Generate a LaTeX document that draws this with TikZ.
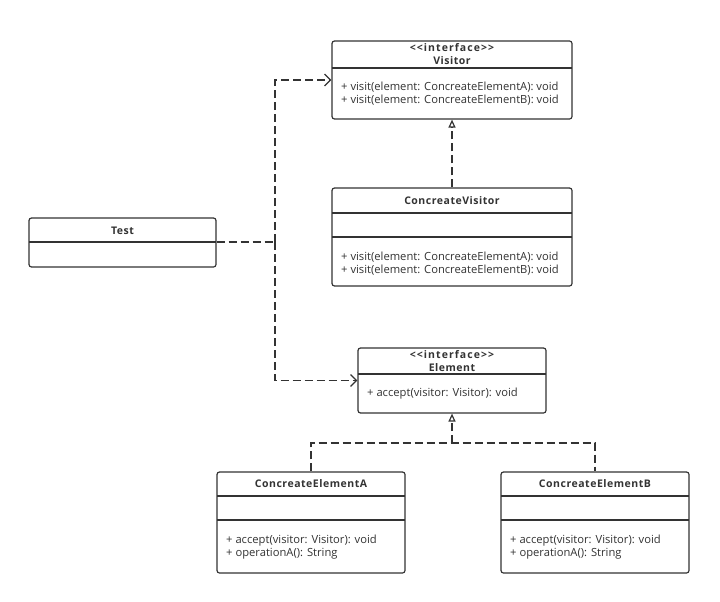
\documentclass[tikz,border=0pt]{standalone}
\usepackage{fontspec}
\setmainfont{Open Sans}
\usetikzlibrary{arrows.meta}
\definecolor{ink}{HTML}{333333}
\tikzset{
  classbox/.style={draw=ink, line width=1.2pt, rounded corners=2.5pt, inner sep=0pt, fill=white},
  divider/.style={draw=ink, line width=1.2pt},
  title/.style={font=\fontsize{10.5}{12}\selectfont\bfseries\addfontfeature{LetterSpace=5}, text=ink, inner sep=0pt},
  stereo/.style={font=\fontsize{10.5}{12}\selectfont\bfseries\addfontfeature{LetterSpace=10}, text=ink, inner sep=0pt},
  member/.style={font=\fontsize{11.2}{13}\selectfont, text=ink, inner sep=0pt, anchor=west},
  dep/.style={draw=ink, line width=1.2pt, dash pattern=on 8pt off 4pt},
  depend/.style={dep, -{Straight Barb[length=6pt,width=12pt,line width=1.2pt]}},
  realize/.style={dep, -{Triangle[open,length=8pt,width=7pt,line width=1.2pt]}},
}
\begin{document}
\begin{tikzpicture}[x=1pt,y=-1pt]
\useasboundingbox (0,0) rectangle (720,602);
% classes
\node[classbox, minimum width=240pt, minimum height=78pt] (visitor) at (452,80) {};
\node[classbox, minimum width=240pt, minimum height=98pt] (cvisitor) at (452,237) {};
\node[classbox, minimum width=187pt, minimum height=49pt] (test) at (122.5,242.5) {};
\node[classbox, minimum width=188pt, minimum height=65pt] (element) at (452,380.5) {};
\node[classbox, minimum width=188pt, minimum height=101pt] (cea) at (311,522.5) {};
\node[classbox, minimum width=188pt, minimum height=101pt] (ceb) at (595,522.5) {};
% dividers
\draw[divider] (332,68) -- (572,68);
\draw[divider] (332,213) -- (572,213);
\draw[divider] (332,237) -- (572,237);
\draw[divider] (29,242) -- (216,242);
\draw[divider] (358,374) -- (546,374);
\draw[divider] (217,496) -- (405,496);
\draw[divider] (217,520) -- (405,520);
\draw[divider] (501,496) -- (689,496);
\draw[divider] (501,520) -- (689,520);
% texts
\node[stereo] (visst) at (452,48) {<{}<interface>{}>};
\node[title] (visnm) at (452,61) {Visitor};
\node[member] (vism1) at (341,87) {+ visit(element: ConcreateElementA): void};
\node[member] (vism2) at (341,100) {+ visit(element: ConcreateElementB): void};
\node[title] (cvnm) at (452,201) {ConcreateVisitor};
\node[member] (cvm1) at (341,257) {+ visit(element: ConcreateElementA): void};
\node[member] (cvm2) at (341,270) {+ visit(element: ConcreateElementB): void};
\node[title] (testnm) at (122.5,231) {Test};
\node[stereo] (elst) at (452,355) {<{}<interface>{}>};
\node[title] (elnm) at (452,368) {Element};
\node[member] (elm1) at (367,394) {+ accept(visitor: Visitor): void};
\node[title] (ceanm) at (311,484) {ConcreateElementA};
\node[member] (ceam1) at (226,541) {+ accept(visitor: Visitor): void};
\node[member] (ceam2) at (226,554) {+ operationA(): String};
\node[title] (cebnm) at (595,484) {ConcreateElementB};
\node[member] (cebm1) at (510,541) {+ accept(visitor: Visitor): void};
\node[member] (cebm2) at (510,554) {+ operationA(): String};
% connectors
\coordinate (j) at (275,242);
\draw[dep] (test.east|-j) -- (j);
\draw[depend] (j) |- (visitor.west);
\draw[depend] (j) |- (element.west);
\draw[realize] (cvisitor.north) -- (visitor.south);
\coordinate (m) at (452,443);
\draw[dep] (cea.north) |- (m) -| (ceb.north);
\draw[realize] (m) -- (element.south);
\end{tikzpicture}
\end{document}
